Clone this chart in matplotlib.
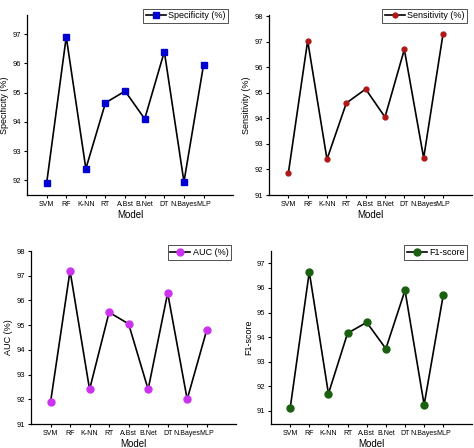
import matplotlib

matplotlib.use("Agg")
import matplotlib.pyplot as plt

plt.rcParams["font.family"] = ["Liberation Sans", "DejaVu Sans"]

models = ["SVM", "RF", "K-NN", "RT", "A.Bst", "B.Net", "DT", "N.Bayes", "MLP"]
specificity = [91.9, 96.9, 92.4, 94.65, 95.05, 94.1, 96.4, 91.95, 95.95]
sensitivity = [91.85, 97.04, 92.4, 94.6, 95.15, 94.05, 96.7, 92.45, 97.3]
auc = [91.88, 97.2, 92.4, 95.52, 95.05, 92.4, 96.3, 92.0, 94.8]
f1_score = [91.1, 96.65, 91.7, 94.16, 94.6, 93.53, 95.9, 91.25, 95.72]

W, H = 474, 448
fig = plt.figure(figsize=(W / 100, H / 100), dpi=100)

# (values, ylabel, legend label, marker, colour, marker size, pixel box, ylim, yticks)
panels = [
    (specificity, "Specificity (%)", "Specificity (%)", "s", "#0000d0", 4.5,
     (27, 15, 233, 195), (91.5, 97.65), range(92, 98)),
    (sensitivity, "Sensitivity (%)", "Sensitivity (%)", "o", "#b01818", 3.5,
     (269, 15, 472, 195), (91, 98.05), range(91, 99)),
    (auc, "AUC (%)", "AUC (%)", "o", "#cc33ee", 5,
     (31, 251, 236, 424), (91, 98), range(91, 99)),
    (f1_score, "F1-score", "F1-score", "o", "#1a6010", 5,
     (271, 251, 472, 424), (90.47, 97.5), range(91, 98)),
]

for vals, ylab, lab, mk, col, ms, (x0, y0, x1, y1), ylim, yt in panels:
    ax = fig.add_axes([x0 / W, 1 - y1 / H, (x1 - x0) / W, (y1 - y0) / H])
    ax.plot(range(len(models)), vals, color="black", linewidth=1.2, marker=mk,
            markersize=ms, markerfacecolor=col, markeredgecolor=col, label=lab)
    ax.set_xlim(-1, 9.5)
    ax.set_ylim(*ylim)
    ax.set_xticks(range(len(models)))
    ax.set_xticklabels(models)
    ax.set_yticks(list(yt))
    ax.tick_params(labelsize=5.5, length=2.5, width=0.8, direction="out", pad=2)
    ax.tick_params(axis="x", labelsize=5.0)
    for side in ("top", "right"):
        ax.spines[side].set_visible(False)
    for side in ("left", "bottom"):
        ax.spines[side].set_linewidth(0.9)
    ax.set_xlabel("Model", fontsize=7, labelpad=1)
    ax.set_ylabel(ylab, fontsize=6.5, labelpad=2)
    leg = ax.legend(loc="upper right", bbox_to_anchor=(1.0, 1.06), fontsize=6.5,
                    fancybox=False, edgecolor="black", handlelength=2.2,
                    borderpad=0.3, handletextpad=0.3)
    leg.get_frame().set_linewidth(0.6)

fig.savefig("out.png", dpi=100)
